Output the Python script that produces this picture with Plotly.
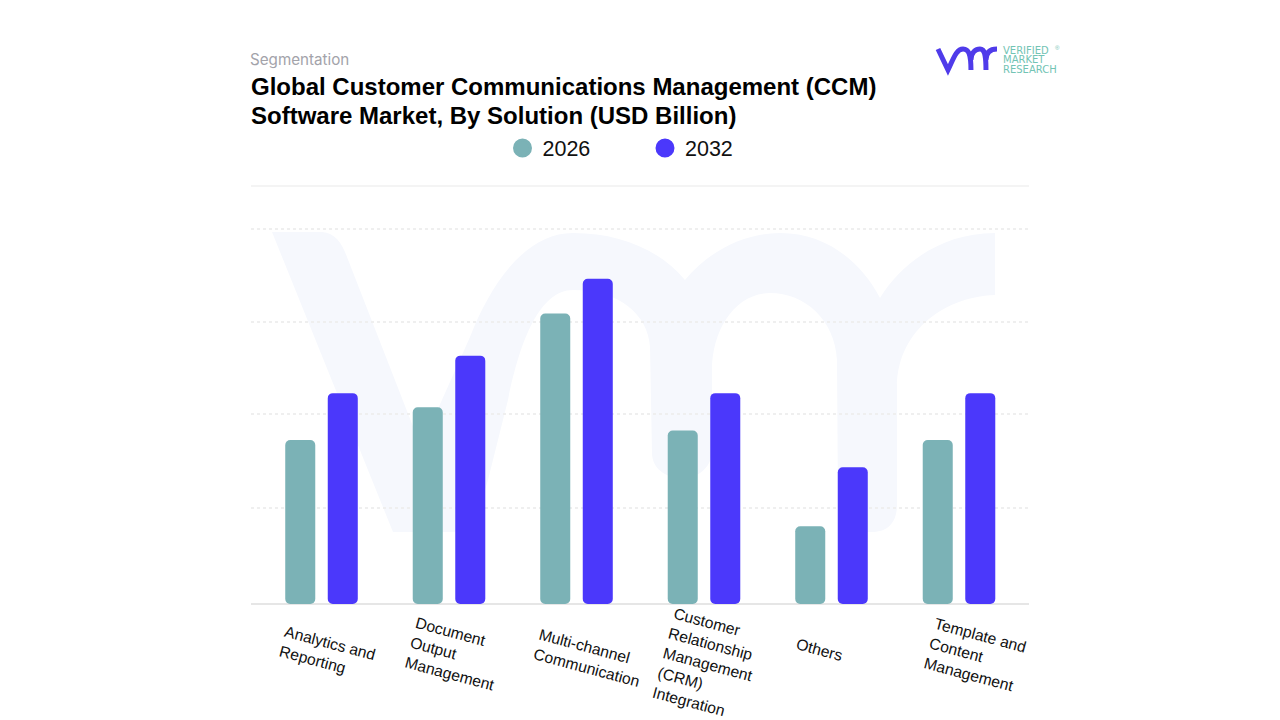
import plotly.graph_objects as go

# the page keeps an 8px body margin, so the figure starts at 8,8 on screen
PAGE_OFFSET = 8
W = 1280 - PAGE_OFFSET
H = 720 - PAGE_OFFSET
LEFT, RIGHT, TOP, BOTTOM = 251, 1029, 186, 604

categories = ["Analytics and<br>Reporting",
              "Document<br>Output<br>Management",
              "Multi-channel<br>Communication",
              "Customer<br>Relationship<br>Management<br>(CRM)<br>Integration",
              "Others",
              "Template and<br>Content<br>Management"]
values_2026 = [1.75, 2.10, 3.10, 1.85, 0.83, 1.75]
values_2032 = [2.25, 2.65, 3.47, 2.25, 1.46, 2.25]
grid_vals = [1.02, 2.03, 3.01, 4.0]
y_max = 4.46
title_lines = ["Global Customer Communications Management (CCM)",
               "Software Market, By Solution (USD Billion)"]

COL_2026 = "#7bb2b6"
COL_2032 = "#4b38fb"
LOGO_TEAL = "#72c4b4"


def px(x):
    return (x - LEFT) / (RIGHT - LEFT)


def py(y):
    return (BOTTOM - y) / (BOTTOM - TOP)


def path_to_paper(parts):
    # parts are svg commands with points given in screen pixels
    out = []
    for cmd, pts in parts:
        coords = " ".join(f"{px(x):.4f},{py(y):.4f}" for x, y in pts)
        out.append(f"{cmd}{coords}")
    return " ".join(out)


fig = go.Figure()

# an explicit base makes plotly round both ends of the bar
for name, vals, col in [("2026", values_2026, COL_2026), ("2032", values_2032, COL_2032)]:
    fig.add_trace(go.Bar(x=categories, y=vals, base=[0] * len(vals),
                         marker=dict(color=col, line=dict(width=0), cornerradius=5),
                         offsetgroup=name, showlegend=False, hoverinfo="skip"))
    fig.add_trace(go.Scatter(x=[categories[0]], y=[None], mode="markers", name=name,
                             marker=dict(color=col, size=16, line=dict(color=col, width=3))))

watermark = [
    ("M", [(272, 232)]), ("L", [(322, 232)]), ("C", [(335, 233), (342, 243), (347, 257)]),
    ("L", [(421, 447)]), ("L", [(470, 337)]), ("C", [(490, 285), (525, 233), (573, 233)]),
    ("C", [(620, 233), (660, 250), (685, 280)]), ("C", [(710, 250), (745, 233), (780, 233)]),
    ("C", [(825, 233), (860, 260), (880, 298)]), ("C", [(900, 265), (940, 233), (995, 233)]),
    ("L", [(995, 295)]), ("C", [(940, 297), (897, 335), (897, 387)]),
    ("L", [(897, 505)]), ("C", [(897, 522), (888, 532), (872, 532)]),
    ("C", [(850, 532), (838, 520), (838, 505)]), ("L", [(837, 360)]),
    ("C", [(835, 320), (805, 293), (770, 293)]), ("C", [(735, 293), (712, 330), (712, 370)]),
    ("L", [(712, 450)]), ("C", [(712, 468), (698, 478), (682, 478)]),
    ("C", [(665, 478), (652, 468), (652, 453)]), ("L", [(650, 347)]),
    ("C", [(648, 315), (620, 290), (573, 290)]), ("C", [(540, 290), (520, 340), (508, 400)]),
    ("L", [(488, 480)]), ("C", [(478, 515), (470, 532), (450, 532)]),
    ("L", [(393, 532)]), ("Z", []),
]

logo = [
    ("M", [(938, 49)]), ("L", [(948, 70)]), ("C", [(953, 60), (956, 49), (963, 49)]),
    ("C", [(969, 49), (971, 55), (971, 70)]), ("M", [(971, 60)]),
    ("C", [(971, 52), (976, 49), (980, 49)]), ("C", [(985, 49), (986, 55), (986, 70)]),
    ("M", [(986, 60)]), ("C", [(986, 52), (990, 49), (997, 49)]),
]

fig.update_layout(
    width=W, height=H,
    margin=dict(l=LEFT - PAGE_OFFSET, r=W - (RIGHT - PAGE_OFFSET), t=TOP - PAGE_OFFSET,
                b=H - (BOTTOM - PAGE_OFFSET), autoexpand=False),
    paper_bgcolor="white", plot_bgcolor="rgba(0,0,0,0)",
    font=dict(family="Liberation Sans", color="#111111"),
    barmode="group", bargap=0.333, bargroupgap=0.294,
    hovermode=False,
    legend=dict(orientation="h", x=px(502.5), y=py(148), xanchor="left", yanchor="middle",
                font=dict(size=21.5, color="#111111"), entrywidth=97.5, entrywidthmode="pixels",
                itemsizing="trace", bgcolor="rgba(0,0,0,0)"),
    xaxis=dict(type="category", range=[-0.553, 5.549], showticklabels=False, ticks="",
               showgrid=False, zeroline=False, showline=False),
    yaxis=dict(range=[0, y_max], tickvals=grid_vals, showticklabels=False, ticks="",
               showgrid=True, gridcolor="#efefef", gridwidth=1.5, griddash="dot",
               zeroline=False, showline=False),
    shapes=[
        dict(type="path", xref="paper", yref="paper", path=path_to_paper(watermark),
             fillcolor="#f6f8fd", line=dict(width=0), layer="below"),
        dict(type="line", xref="paper", yref="paper", x0=0, x1=1, y0=1, y1=1,
             line=dict(color="#f0f0f0", width=1.5), layer="below"),
        dict(type="line", xref="paper", yref="paper", x0=0, x1=1, y0=0, y1=0,
             line=dict(color="#e6e6e6", width=2), layer="below"),
        dict(type="path", xref="paper", yref="paper", path=path_to_paper(logo),
             line=dict(color="#4f3bea", width=5)),
    ],
)

# category labels sit at their own spots under the bars
label_x = [327, 455, 589, 708, 819, 975]
label_y = [652, 654, 657, 664, 649, 655]
for cat, lx, ly in zip(categories, label_x, label_y):
    fig.add_annotation(text=cat, xref="paper", yref="paper", x=px(lx), y=py(ly),
                       xanchor="center", yanchor="middle", align="left", textangle=15,
                       showarrow=False, font=dict(size=15.7, color="#111111"))

for line, ly in zip(title_lines, [87, 116]):
    fig.add_annotation(text=line, xref="paper", yref="paper", x=px(249), y=py(ly),
                       xanchor="left", yanchor="middle", showarrow=False,
                       font=dict(size=24, color="#000000", weight="bold"))

fig.add_annotation(text="Segmentation", xref="paper", yref="paper", x=px(248), y=py(59),
                   xanchor="left", yanchor="middle", showarrow=False,
                   font=dict(family="Inter", size=15.2, color="#a3a3aa"))

for txt, ly in [("VERIFIED", 50), ("MARKET", 59.5), ("RESEARCH", 69)]:
    fig.add_annotation(text=txt, xref="paper", yref="paper", x=px(1001), y=py(ly),
                       xanchor="left", yanchor="middle", showarrow=False,
                       font=dict(family="DejaVu Sans", size=10, color=LOGO_TEAL))
fig.add_annotation(text="®", xref="paper", yref="paper", x=px(1057), y=py(48),
                   xanchor="center", yanchor="middle", showarrow=False,
                   font=dict(size=6, color=LOGO_TEAL))

fig.write_html("out.html")
